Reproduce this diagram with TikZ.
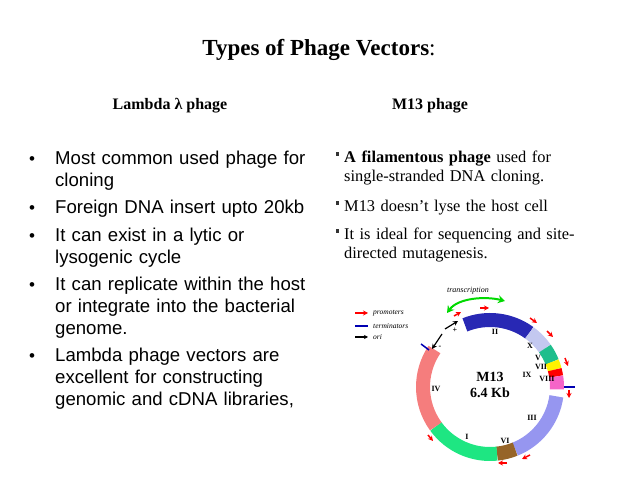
\documentclass[tikz,border=0pt]{standalone}
\usepackage{fontspec}
\setmainfont{Liberation Serif}
\setsansfont{Liberation Sans}
\usetikzlibrary{arrows.meta,calc}
\begin{document}
\begin{tikzpicture}[x=1pt,y=-1pt,
  lt/.style={anchor=base west,font=\sffamily\fontsize{18.6}{22}\selectfont,align=left,text width=280pt,inner sep=0},
  rt/.style={anchor=base west,font=\fontsize{16.4}{19}\selectfont,align=left,text width=260pt,inner sep=0},
  seg/.style={line width=14pt},
  lab/.style={font=\fontsize{8}{9}\selectfont\bfseries,inner sep=0},
  prom/.style={red,-{Stealth[length=5pt,width=5pt]},line width=1.5pt},
  leg/.style={font=\fontsize{7.5}{8}\selectfont\itshape,anchor=west,inner sep=0}]
\useasboundingbox (0,0) rectangle (638,478);
\node[inner sep=0,anchor=base] (title) at (319,56) {\fontsize{23}{26}\selectfont\textbf{Types of Phage Vectors}:};
\node[inner sep=0,anchor=base] (h1) at (170,110) {\fontsize{16}{18}\selectfont\textbf{Lambda λ phage}};
\node[inner sep=0,anchor=base] (h2) at (430,110) {\fontsize{16}{18}\selectfont\textbf{M13 phage}};
% left bullets
\foreach \y/\t [count=\i] in {165/{Most common used phage for\\cloning},
  214/{Foreign DNA insert upto 20kb},
  242/{It can exist in a lytic or\\lysogenic cycle},
  291/{It can replicate within the host\\or integrate into the bacterial\\genome.},
  362/{Lambda phage vectors are\\excellent for constructing\\genomic and cDNA libraries,}}{
  \node[anchor=base west,inner sep=0,font=\sffamily\fontsize{17}{22}\selectfont] (lb\i) at (29,\y) {•};
  \node[lt] (l\i) at (55,\y) {\t};
}
% right bullets
\foreach \y/\t [count=\i] in {163/{\textbf{A filamentous phage} used for\\single-stranded DNA cloning.},
  212/{M13 doesn’t lyse the host cell},
  240/{It is ideal for sequencing and site-\\directed mutagenesis.}}{
  \node[fill=black!80,minimum size=3.5pt,inner sep=0] (rb\i) at (337.5,\y-9) {};
  \node[rt] (r\i) at (344,\y) {\t};
}
% circle map
\coordinate (c) at (490,387);
\def\R{67}
\foreach \a/\b/\col in {112/54/{rgb,255:red,40;green,40;blue,180},
  54/35/{rgb,255:red,195;green,200;blue,240},
  35/22/{rgb,255:red,30;green,190;blue,140},
  22/15/yellow,
  15/9/red,
  9/-2/{rgb,255:red,245;green,100;blue,200},
  -8/-68/{rgb,255:red,150;green,150;blue,240},
  -68/-84/{rgb,255:red,150;green,100;blue,40},
  -84/-144/{rgb,255:red,30;green,230;blue,130},
  -144/-214/{rgb,255:red,245;green,125;blue,125}}{
  \draw[seg,color=\col] ($(c)+(-\a:\R)$) arc[start angle=-\a,end angle=-\b,radius=\R];
}
\node[font=\fontsize{14}{16}\selectfont\bfseries,align=center,inner sep=0] (m13) at (490,385) {M13\\6.4 Kb};
\node[lab] (gII) at (495,332) {II};
\node[lab] (gX) at (530,346) {X};
\node[lab] (gV) at (538,358) {V};
\node[lab] (gVII) at (541,367) {VII};
\node[lab] (gIX) at (527,375) {IX};
\node[lab] (gVIII) at (547,379) {VIII};
\node[lab] (gIII) at (532,418) {III};
\node[lab] (gVI) at (505,441) {VI};
\node[lab] (gI) at (467,437) {I};
\node[lab] (gIV) at (436,389) {IV};
\node[lab] (plus) at (455,330) {+};
\node[lab] (minus) at (440,347) {-};
% transcription
\node[font=\fontsize{8}{9}\selectfont\itshape,inner sep=0] (tr) at (468,291) {transcription};
\coordinate (t1) at (447,313);
\coordinate (t2) at (505,301);
\draw[{Stealth[length=7pt,width=8pt]}-{Stealth[length=7pt,width=8pt]},line width=2pt,green!85!black] (t1) .. controls (458,298) and (485,296) .. (t2);
% ori arrows
\coordinate (o1) at (445,329); \coordinate (o2) at (458,321);
\coordinate (o3) at (442,334); \coordinate (o4) at (432,349);
\draw[-{Stealth[length=5pt,width=5pt]},line width=1.2pt] (o1) -- (o2);
\draw[-{Stealth[length=5pt,width=5pt]},line width=1.2pt] (o3) -- (o4);
% terminators
\coordinate (tm1) at (421,344); \coordinate (tm2) at (429,350);
\draw[blue!70!black,line width=1.5pt] (tm1) -- (tm2);
\coordinate (tm3) at (564,387); \coordinate (tm4) at (575,387);
\draw[blue!70!black,line width=1.5pt] (tm3) -- (tm4);
% promoters
\foreach \x/\y/\dx/\dy in {454/316/7/-4, 480/308/9/0, 530/318/7/5, 547/331/6/6, 565/358/3/8, 569/390/0/8, 428/435/5/6, 507/463/-9/0, 530/455/-8/4}{
  \draw[prom] (\x,\y) -- ++(\dx,\dy);
}
% legend
\coordinate (lg1) at (355,313); \coordinate (lg2) at (368,313);
\draw[prom] (lg1) -- (lg2);
\node[leg] (lp) at (373,313) {promoters};
\coordinate (lg3) at (355,326); \coordinate (lg4) at (368,326);
\draw[blue!70!black,line width=1.5pt] (lg3) -- (lg4);
\node[leg] (lt2) at (373,326) {terminators};
\coordinate (lg5) at (355,337); \coordinate (lg6) at (368,337);
\draw[-{Stealth[length=4pt,width=4pt]},line width=1.2pt] (lg5) -- (lg6);
\node[leg] (lo) at (373,337) {ori};
\end{tikzpicture}
\end{document}
